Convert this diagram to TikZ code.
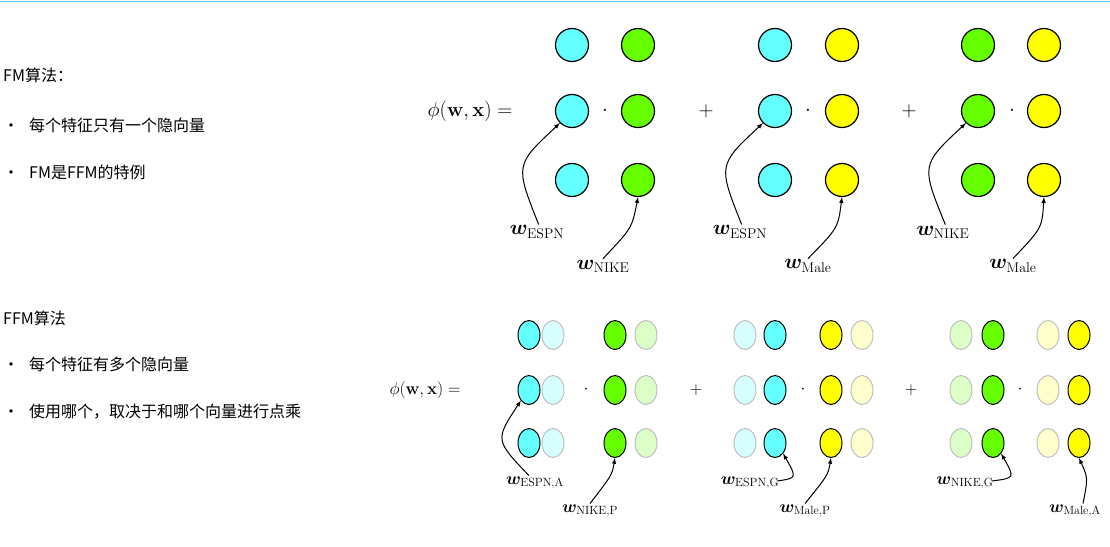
\documentclass[tikz,border=0pt]{standalone}
\usetikzlibrary{shapes.geometric}
\usepackage{fontspec}
\setmainfont{Latin Modern Roman}
\newfontfamily\cjk{Noto Sans CJK SC}
\usepackage{amsmath,bm}
\begin{document}
\begin{tikzpicture}[x=1pt,y=-1pt,
  C/.style={circle,draw=black,line width=1.2pt,minimum size=33pt,inner sep=0pt},
  E/.style={ellipse,draw=black,line width=1pt,minimum width=22pt,minimum height=29pt,inner sep=0pt},
  L/.style={ellipse,draw=black!25,line width=1pt,minimum width=22pt,minimum height=29pt,inner sep=0pt},
  txt/.style={anchor=west,font=\cjk\fontsize{16}{18}\selectfont,inner sep=0pt},
  arr/.style={-latex,line width=1pt},
  lab/.style={inner sep=1pt,font=\fontsize{20}{22}\selectfont},
  labs/.style={inner sep=1pt,font=\fontsize{17}{19}\selectfont}]
\useasboundingbox (0,0) rectangle (1110,546);
\draw[blue!40!cyan!60,line width=1pt] (0,1) -- (1110,1);
% left texts
\node[txt] (t1) at (3,75) {FM算法：};
\node[txt] (b1) at (3,125) {•\hspace{10pt}每个特征只有一个隐向量};
\node[txt] (b2) at (3,172) {•\hspace{10pt}FM是FFM的特例};
\node[txt] (t2) at (3,318) {FFM算法};
\node[txt] (b3) at (3,364) {•\hspace{10pt}每个特征有多个隐向量};
\node[txt] (b4) at (3,412) {•\hspace{10pt}使用哪个，取决于和哪个向量进行点乘};
% top figure
\definecolor{cy}{RGB}{100,255,255}
\definecolor{gr}{RGB}{102,255,0}
\definecolor{ye}{RGB}{255,255,0}
\definecolor{lcy}{RGB}{215,255,255}
\definecolor{lgr}{RGB}{220,255,200}
\definecolor{lye}{RGB}{255,255,205}
\foreach \r/\y in {1/45,2/111,3/180}{
  \node[C,fill=cy] (a\r) at (572,\y) {};
  \node[C,fill=gr] (b\r) at (638,\y) {};
  \node[C,fill=cy] (c\r) at (775,\y) {};
  \node[C,fill=ye] (d\r) at (842,\y) {};
  \node[C,fill=gr] (e\r) at (978,\y) {};
  \node[C,fill=ye] (f\r) at (1044,\y) {};
}
\node[lab] (phi1) at (470,111) {$\phi(\mathbf{w},\mathbf{x})=$};
\node[lab] (d1x) at (605,111) {$\cdot$};
\node[lab] (d2x) at (808,111) {$\cdot$};
\node[lab] (d3x) at (1012,111) {$\cdot$};
\node[lab] (p1) at (706,111) {$+$};
\node[lab] (p2) at (909,111) {$+$};
\node[lab] (l1) at (537,232) {$\bm{w}_{\text{ESPN}}$};
\node[lab] (l2) at (603,266) {$\bm{w}_{\text{NIKE}}$};
\node[lab] (l3) at (740,232) {$\bm{w}_{\text{ESPN}}$};
\node[lab] (l4) at (808,266) {$\bm{w}_{\text{Male}}$};
\node[lab] (l5) at (943,232) {$\bm{w}_{\text{NIKE}}$};
\node[lab] (l6) at (1013,266) {$\bm{w}_{\text{Male}}$};
\draw[arr] (l1.north west) ++(30,0) coordinate (s1) (s1) .. controls (515,165) .. (a2.south west);
\draw[arr] (l2.north) .. controls (632,228) .. (b3.south);
\draw[arr] (l3.north west) ++(30,0) coordinate (s3) (s3) .. controls (718,165) .. (c2.south west);
\draw[arr] (l4.north) .. controls (838,228) .. (d3.south);
\draw[arr] (l5.north west) ++(30,0) coordinate (s5) (s5) .. controls (921,165) .. (e2.south west);
\draw[arr] (l6.north) .. controls (1042,228) .. (f3.south);
% bottom figure
\foreach \r/\y in {1/335,2/390,3/443}{
  \node[E,fill=cy] (A\r) at (529,\y) {};
  \node[L,fill=lcy] (Ax\r) at (553,\y) {};
  \node[E,fill=gr] (B\r) at (615,\y) {};
  \node[L,fill=lgr] (Bx\r) at (646,\y) {};
  \node[L,fill=lcy] (Cx\r) at (745,\y) {};
  \node[E,fill=cy] (C\r) at (775,\y) {};
  \node[E,fill=ye] (D\r) at (831,\y) {};
  \node[L,fill=lye] (Dx\r) at (862,\y) {};
  \node[L,fill=lgr] (Ex\r) at (961,\y) {};
  \node[E,fill=gr] (E\r) at (993,\y) {};
  \node[L,fill=lye] (Fx\r) at (1048,\y) {};
  \node[E,fill=ye] (F\r) at (1079,\y) {};
}
\node[labs] (phi2) at (425,390) {$\phi(\mathbf{w},\mathbf{x})=$};
\node[labs] (e1x) at (586,390) {$\cdot$};
\node[labs] (e2x) at (803,390) {$\cdot$};
\node[labs] (e3x) at (1020,390) {$\cdot$};
\node[labs] (q1) at (696,390) {$+$};
\node[labs] (q2) at (911,390) {$+$};
\node[labs] (m1) at (535,483) {$\bm{w}_{\text{ESPN,A}}$};
\node[labs] (m2) at (590,511) {$\bm{w}_{\text{NIKE,P}}$};
\node[labs] (m3) at (750,483) {$\bm{w}_{\text{ESPN,G}}$};
\node[labs] (m4) at (805,511) {$\bm{w}_{\text{Male,P}}$};
\node[labs] (m5) at (965,483) {$\bm{w}_{\text{NIKE,G}}$};
\node[labs] (m6) at (1075,511) {$\bm{w}_{\text{Male,A}}$};
\draw[arr] (m1.north west) ++(24,0) coordinate (u1) (u1) .. controls (495,440) .. (A2.south west);
\draw[arr] (m2.north) .. controls (612,475) .. (B3.south);
\draw[arr] (m3.east) ++(-3,-2) coordinate (u3) (u3) .. controls (797,478) .. (C3.south east);
\draw[arr] (m4.north) .. controls (828,475) .. (D3.south);
\draw[arr] (m5.east) ++(-3,-2) coordinate (u5) (u5) .. controls (1015,478) .. (E3.south east);
\draw[arr] (m6.north) ++(8,0) coordinate (u6) (u6) .. controls (1088,478) .. (F3.south);
\end{tikzpicture}
\end{document}
